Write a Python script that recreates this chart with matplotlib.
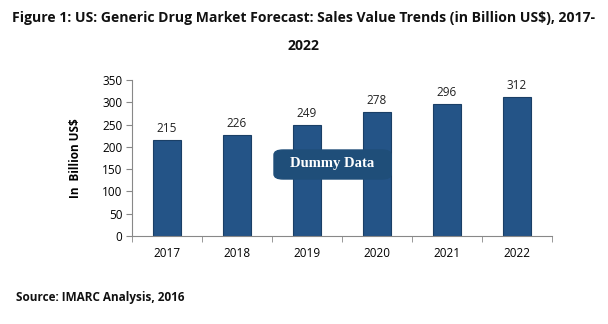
import matplotlib
matplotlib.use("Agg")
import matplotlib.pyplot as plt
from matplotlib.patches import FancyBboxPatch
import numpy as np

years = ["2017", "2018", "2019", "2020", "2021", "2022"]
values = [215, 226, 249, 278, 296, 312]
yticks = [0, 50, 100, 150, 200, 250, 300, 350]

fig = plt.figure(figsize=(6.08, 3.24), dpi=100)
fig.patch.set_facecolor("white")
ax = fig.add_axes([0.217, 0.272, 0.691, 0.481])

x = np.arange(len(years))
bars = ax.bar(x, values, width=0.41, color="#245487", edgecolor="#1A3F66", linewidth=0.8, zorder=2)
for xi, v in zip(x, values):
    ax.text(xi, v + 12, str(v), ha="center", va="bottom", fontsize=8.5, family="Open Sans", color="#222222")

ax.set_xlim(-0.5, len(years) - 0.5)
ax.set_ylim(0, 350)
ax.set_yticks(yticks)
ax.set_yticklabels([str(t) for t in yticks], fontsize=8.5, family="Open Sans")
ax.set_xticks(x)
ax.set_xticklabels(years, fontsize=8.5, family="Open Sans")
ax.set_xticks(np.arange(-0.5, len(years)), minor=True)
ax.tick_params(axis="x", which="major", length=0, pad=8)
ax.tick_params(axis="x", which="minor", length=4, color="#888888", direction="out")
ax.tick_params(axis="y", length=4, color="#888888", direction="out", pad=3)
for s in ["top", "right"]:
    ax.spines[s].set_visible(False)
for s in ["left", "bottom"]:
    ax.spines[s].set_color("#888888")
    ax.spines[s].set_linewidth(0.8)
ax.set_ylabel("In  Billion US$", fontsize=8.5, fontweight="bold", family="Open Sans", labelpad=14)

fig.text(0.5, 0.945, "Figure 1: US: Generic Drug Market Forecast: Sales Value Trends (in Billion US$), 2017-",
         ha="center", va="center", fontsize=10.1, fontweight="bold", family="Open Sans", color="#111111")
fig.text(0.5, 0.858, "2022", ha="center", va="center", fontsize=10.1, fontweight="bold", family="Open Sans", color="#111111")
fig.text(0.026, 0.083, "Source: IMARC Analysis, 2016", ha="left", va="center", fontsize=8.5,
         fontweight="bold", family="Open Sans", color="#111111")

box = FancyBboxPatch((274 / 608, 1 - 179 / 324), 117 / 608, 29 / 324,
                     boxstyle="round,pad=0,rounding_size=0.015", transform=fig.transFigure,
                     facecolor="#1F4E79", edgecolor="#1F4E79", zorder=5)
fig.patches.append(box)
fig.text(332 / 608, 1 - 164 / 324, "Dummy Data", ha="center", va="center", fontsize=10.5,
         fontweight="bold", family="Liberation Serif", color="white", zorder=6)

fig.savefig("out.png", dpi=100, facecolor="white")
